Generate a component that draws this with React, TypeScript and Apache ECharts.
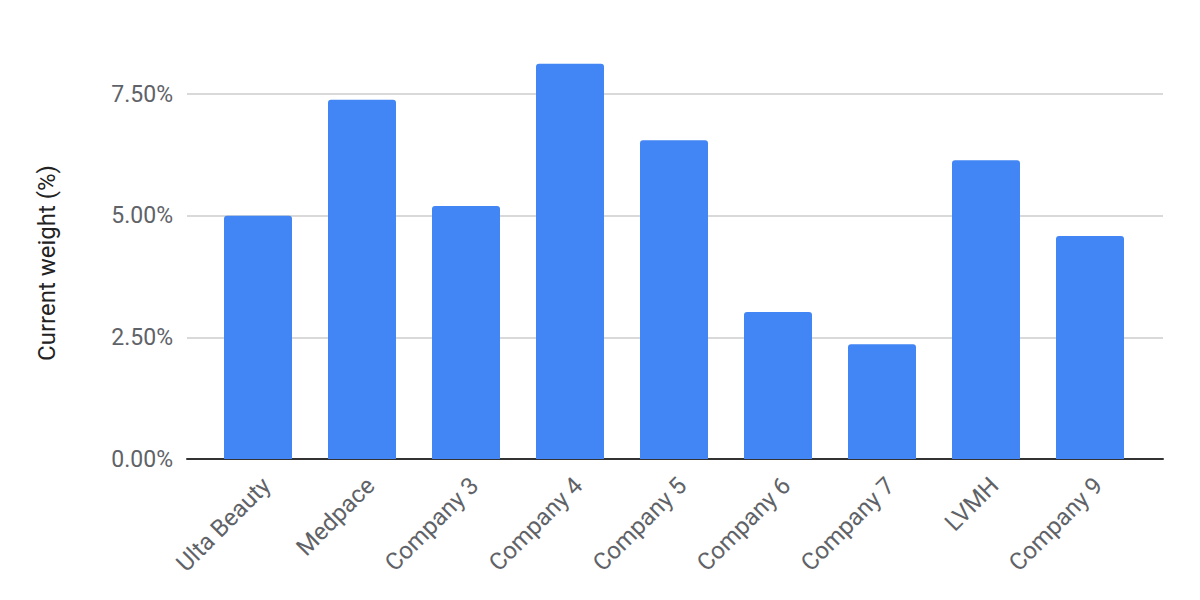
import { useEffect, useRef } from "react";
import * as echarts from "echarts";

const categories = [
  "Ulta Beauty",
  "Medpace",
  "Company 3",
  "Company 4",
  "Company 5",
  "Company 6",
  "Company 7",
  "LVMH",
  "Company 9",
];
const weights = [5.0, 7.38, 5.2, 8.12, 6.55, 3.02, 2.36, 6.14, 4.58];
const yTicks = { min: 0, max: 7.5, interval: 2.5 };
const yTitle = "Current weight (%)";

const FONT = "Roboto, 'Noto Sans', sans-serif";

const App = () => {
  const chartRef = useRef<HTMLDivElement>(null);

  useEffect(() => {
    if (!chartRef.current) return;
    const chart = echarts.init(chartRef.current, undefined, { renderer: "svg" });

    const option = {
      animation: false,
      grid: [
        // bars and category labels
        { left: 206, right: 58, top: 94, bottom: 141 },
        // background: gridlines, y labels, baseline
        { left: 187, right: 37, top: 94, bottom: 141 },
      ],
      xAxis: [
        {
          type: "category",
          gridIndex: 0,
          data: categories,
          axisLine: { show: false },
          axisTick: { show: false },
          axisLabel: {
            rotate: 45,
            margin: 14,
            fontSize: 24,
            color: "#5f6368",
            fontFamily: FONT,
            verticalAlign: "top",
            interval: 0,
          },
        },
        {
          type: "value",
          gridIndex: 1,
          min: 0,
          max: 1,
          axisLine: { show: true, lineStyle: { color: "#333", width: 2 } },
          axisTick: { show: false },
          axisLabel: { show: false },
          splitLine: { show: false },
        },
      ],
      yAxis: [
        {
          type: "value",
          gridIndex: 0,
          ...yTicks,
          show: false,
          splitLine: { show: false },
        },
        {
          type: "value",
          gridIndex: 1,
          ...yTicks,
          axisLine: { show: false },
          axisTick: { show: false },
          splitLine: { lineStyle: { color: "#cccccc", width: 1.5 } },
          axisLabel: {
            margin: 14,
            fontSize: 23,
            color: "#5f6368",
            fontFamily: FONT,
            formatter: (v: number) => v.toFixed(2) + "%",
          },
        },
      ],
      series: [
        {
          type: "bar",
          xAxisIndex: 0,
          yAxisIndex: 0,
          data: weights,
          barWidth: 68,
          clip: false,
          itemStyle: { color: "#4285f4", borderRadius: [3, 3, 0, 0] },
        },
      ],
      graphic: [
        {
          type: "text",
          x: 47,
          y: 263,
          rotation: Math.PI / 2,
          style: {
            text: yTitle,
            fontSize: 24,
            fontFamily: FONT,
            fill: "#222222",
            align: "center",
            verticalAlign: "middle",
          },
        },
      ],
    };

    chart.setOption(option);

    const handleResize = () => chart.resize();
    window.addEventListener("resize", handleResize);
    return () => {
      window.removeEventListener("resize", handleResize);
      chart.dispose();
    };
  }, []);

  return (
    <div
      ref={chartRef}
      style={{ position: "fixed", left: 0, top: 0, width: 1200, height: 600, background: "#fff" }}
    />
  );
};

export default App;
